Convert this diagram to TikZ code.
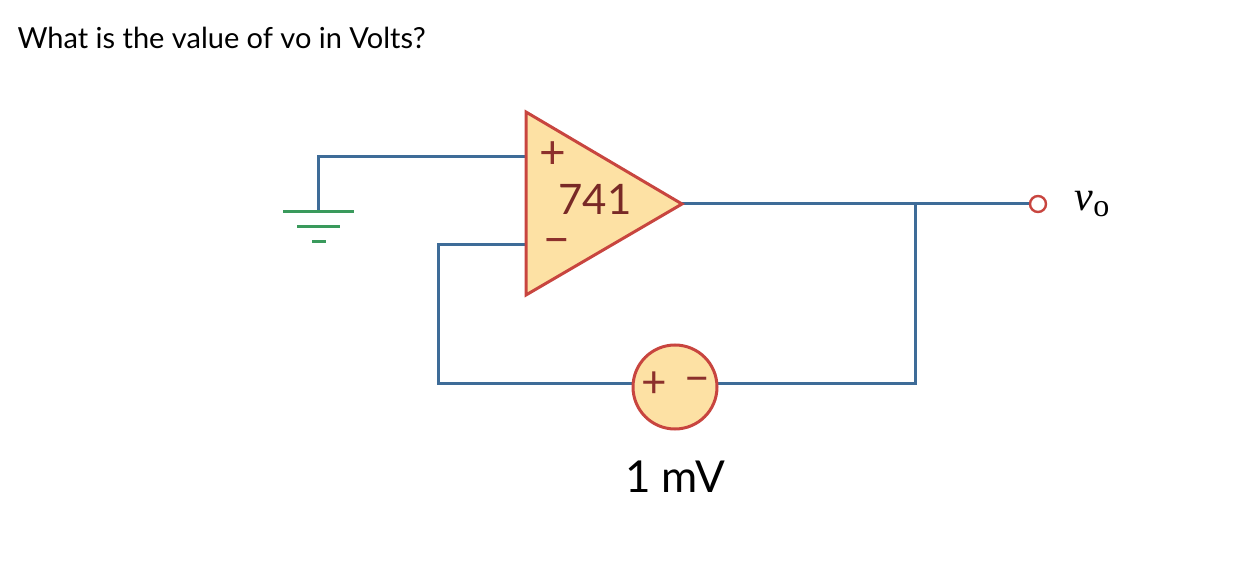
\documentclass[tikz,border=0pt]{standalone}
\usepackage{fontspec}
\setmainfont{Lato}
\newfontfamily\serifvo{Liberation Serif}
\begin{document}
\begin{tikzpicture}[x=1pt,y=-1pt,
  wire/.style={draw=wireblue,line width=3pt},
  part/.style={draw=partred,line width=3pt},
  gnd/.style={draw=gndgreen,line width=3pt},
  sym/.style={font=\fontsize{46}{46}\selectfont,text=partred!70!black,inner sep=0pt}]
\definecolor{wireblue}{HTML}{3E6C98}
\definecolor{partred}{HTML}{C8453F}
\definecolor{fillyel}{HTML}{FDE1A4}
\definecolor{gndgreen}{HTML}{3A9A5C}
\useasboundingbox (0,0) rectangle (1240,564);
\node[anchor=west,font=\fontsize{29}{32}\selectfont] (q) at (14,38) {What is the value of vo in Volts?};
\coordinate (pin) at (526,157);
\coordinate (nin) at (526,245);
\coordinate (out) at (682,204);
\coordinate (g) at (318,212);
\coordinate (j) at (915,204);
\draw[wire] (pin) -- (318,157) -- (g);
\draw[wire] (nin) -- (438,245) -- (438,383) -- (633,383);
\draw[wire] (717,383) -- (915,383) -- (j);
\draw[wire] (out) -- (1030,204);
\draw[gnd] (283,212) -- (354,212);
\draw[gnd] (297,227) -- (340,227);
\draw[gnd] (312,242) -- (326,242);
\draw[part,fill=fillyel,line join=miter] (526,112) -- (out) -- (526,295) -- cycle;
\node[sym] (pl) at (553,155) {+};
\node[sym] (mi) at (557,247) {−};
\node[font=\fontsize{42}{42}\selectfont,text=partred!60!black,inner sep=0pt] (n741) at (595,199) {741};
\draw[part,fill=fillyel] (675,387) circle (42);
\node[sym,font=\fontsize{44}{44}\selectfont] (sp) at (654,385) {+};
\node[sym,font=\fontsize{44}{44}\selectfont] (sm) at (697,385) {−};
\node[font=\fontsize{44}{44}\selectfont] (src) at (675,477) {1 mV};
\draw[part,fill=white,line width=2.4pt] (1038,204) circle (8);
\node[font=\fontsize{42}{42}\selectfont\serifvo] (vo) at (1092,204) {\textit{v}\raisebox{-0.3ex}{\fontsize{32}{32}\selectfont o}};
\end{tikzpicture}
\end{document}
